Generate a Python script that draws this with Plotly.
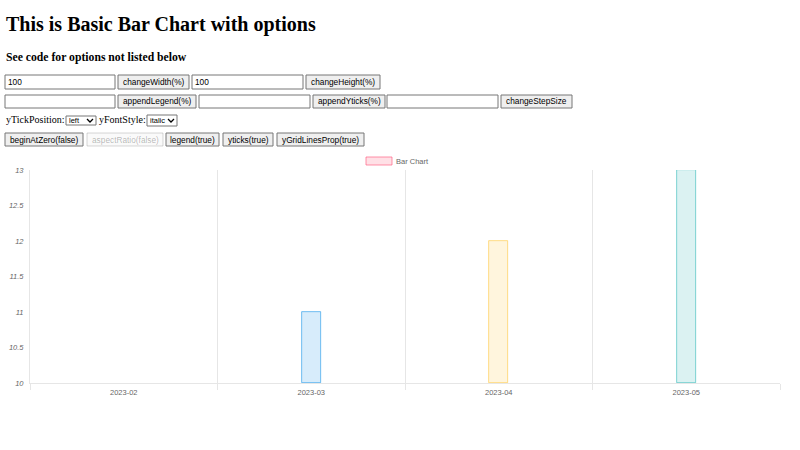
import plotly.graph_objects as go

# ---- data ----
categories = ["2023-02", "2023-03", "2023-04", "2023-05"]
values = [10, 11, 12, 13]
series_name = "Bar Chart"
bg_colors = ["rgba(255,99,132,0.2)", "rgba(54,162,235,0.2)",
             "rgba(255,206,86,0.2)", "rgba(75,192,192,0.2)"]
border_colors = ["rgb(255,99,132)", "rgb(54,162,235)",
                 "rgb(255,206,86)", "rgb(75,192,192)"]
y_ticks = [10, 10.5, 11, 11.5, 12, 12.5, 13]
y_tick_labels = ["10", "10.5", "11", "11.5", "12", "12.5", "13"]

W, H = 800, 450
SANS = "Liberation Sans, Arial, sans-serif"
SERIF = "Liberation Serif, Times New Roman, serif"
GRID = "#e6e6e6"
BAR_LINE = 0.7


def X(px):
    return px / W


def Y(py):
    return 1 - py / H


# Chart.js style: bars start at the scale minimum (beginAtZero: false);
# zero-height bars are not drawn at all
y_min = min(y_ticks)
border_widths = [BAR_LINE if v > y_min else 0 for v in values]

fig = go.Figure()
fig.add_trace(go.Bar(
    x=categories, y=[v - y_min for v in values], base=y_min,
    customdata=values, hovertemplate="%{x}: %{customdata}<extra></extra>",
    name=series_name, width=0.1,
    marker=dict(color=bg_colors, line=dict(color=border_colors, width=border_widths)),
    showlegend=False,
))

shapes = []
annotations = []


def text(px, py, s, size, family=SANS, color="#000", xanchor="left", bold=False, **kw):
    annotations.append(dict(
        x=X(px), y=Y(py), xref="paper", yref="paper", text=("<b>%s</b>" % s) if bold else s,
        showarrow=False, xanchor=xanchor, yanchor="middle", borderpad=0,
        font=dict(size=size, family=family, color=color), **kw))


def box(x0, x1, y0, y1, fill, line="#767676"):
    shapes.append(dict(type="rect", xref="paper", yref="paper",
                       x0=X(x0), x1=X(x1), y0=Y(y1), y1=Y(y0),
                       fillcolor=fill, line=dict(color=line, width=1), layer="above"))


def button(x0, x1, y0, y1, label, disabled=False):
    if disabled:
        box(x0, x1, y0, y1, "rgba(239,239,239,0.3)", "rgba(118,118,118,0.3)")
        text((x0 + x1) / 2, (y0 + y1) / 2, label, 8.3, color="rgba(16,16,16,0.3)", xanchor="center")
    else:
        box(x0, x1, y0, y1, "#efefef")
        text((x0 + x1) / 2, (y0 + y1) / 2, label, 8.3, color="#000", xanchor="center")


def inp(x0, x1, y0, y1, value=""):
    box(x0, x1, y0, y1, "#ffffff")
    if value:
        text(x0 + 2, (y0 + y1) / 2, value, 8.3)


def select(x0, x1, y0, y1, label):
    box(x0, x1, y0, y1, "#ffffff")
    text(x0 + 2, (y0 + y1) / 2, label, 7.5)
    cx = x1 - 6
    cy = (y0 + y1) / 2
    shapes.append(dict(type="path", xref="paper", yref="paper",
                       path="M %f,%f L %f,%f L %f,%f" % (X(cx - 3), Y(cy - 1.5), X(cx), Y(cy + 1.5), X(cx + 3), Y(cy - 1.5)),
                       line=dict(color="#000", width=1.3), layer="above"))


# headings
text(5, 24.5, "This is Basic Bar Chart with options", 20, family=SERIF, bold=True)
text(5, 57, "See code for options not listed below", 11.7, family=SERIF, bold=True)

# row 1
inp(5, 115, 75, 89, "100")
button(118, 189, 75, 89, "changeWidth(%)")
inp(192, 303, 75, 89, "100")
button(306, 380, 75, 89, "changeHeight(%)")
# row 2
inp(5, 115, 95, 108)
button(118, 196, 95, 108, "appendLegend(%)")
inp(199, 310, 95, 108)
button(313, 385, 95, 108, "appendYticks(%)")
inp(387, 498, 95, 108)
button(501, 572, 95, 108, "changeStepSize")
# row 3
text(5, 120, "yTickPosition:", 10, family=SERIF)
select(66, 96, 116, 125, "left")
text(98, 120, "yFontStyle:", 10, family=SERIF)
select(147, 177, 115, 126, "italic")
# row 4
button(5, 83, 133, 146, "beginAtZero(false)")
button(87, 163, 133, 146, "aspectRatio(false)", disabled=True)
button(166, 219, 133, 146, "legend(true)")
button(223, 273, 133, 146, "yticks(true)")
button(277, 364, 133, 146, "yGridLinesProp(true)")

# chart legend
shapes.append(dict(type="rect", xref="paper", yref="paper",
                   x0=X(366), x1=X(392), y0=Y(165), y1=Y(157),
                   fillcolor=bg_colors[0], line=dict(color=border_colors[0], width=BAR_LINE)))
text(395, 161, series_name, 7.5, color="#666")

fig.update_layout(
    template="none",
    width=W, height=H, margin=dict(l=0, r=0, t=0, b=0, autoexpand=False),
    paper_bgcolor="white", plot_bgcolor="white",
    shapes=shapes, annotations=annotations, bargap=0,
    xaxis=dict(
        type="category", categoryorder="array", categoryarray=categories,
        domain=[X(30), X(780)], range=[-0.5, len(categories) - 0.5],
        automargin=False,
        tickson="boundaries", showgrid=True, gridcolor=GRID, gridwidth=1,
        ticks="outside", ticklen=6, tickcolor=GRID, tickwidth=1,
        showline=True, linecolor=GRID, linewidth=1, ticklabelstandoff=2,
        tickfont=dict(size=7.5, color="#666", family=SANS),
        zeroline=False, fixedrange=True,
    ),
    yaxis=dict(
        domain=[Y(383.3), Y(170)], range=[min(y_ticks), max(y_ticks)],
        automargin=False,
        tickmode="array", tickvals=y_ticks, ticktext=y_tick_labels,
        showgrid=False, zeroline=False, showline=True, linecolor=GRID, linewidth=1,
        ticks="", ticklabelstandoff=4,
        tickfont=dict(size=7.5, color="#666", family=SANS, style="italic"),
        fixedrange=True,
    ),
)

fig.write_html("out.html", config={"displayModeBar": False},
               post_script="document.body.style.margin='0';")
